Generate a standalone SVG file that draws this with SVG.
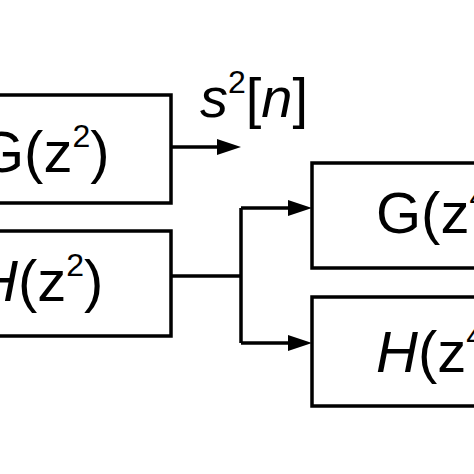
<svg xmlns="http://www.w3.org/2000/svg" width="474" height="474" viewBox="0 0 474 474">
<style>
.box{fill:#fff;stroke:#000;stroke-width:3.5}
.wire{fill:none;stroke:#000;stroke-width:3.5}
.lbl{font-family:"Liberation Sans",Arial,sans-serif;font-size:58px;fill:#000}
.sup{font-size:32px}
.it{font-style:italic}
</style>
<defs>
<marker id="ah" markerUnits="userSpaceOnUse" markerWidth="24" markerHeight="18" refX="17" refY="9" orient="auto">
<path d="M0,1 L24,9 L0,17 Z" fill="#000"/>
</marker>
</defs>
<rect width="474" height="474" fill="#fff"/>
<g id="connectors">
<line class="wire" x1="171" y1="147" x2="234" y2="147" marker-end="url(#ah)"/>
<polyline class="wire" points="171,276 241,276"/>
<polyline class="wire" points="241,208 241,343"/>
<line class="wire" x1="241" y1="208" x2="305" y2="208" marker-end="url(#ah)"/>
<line class="wire" x1="241" y1="343" x2="305" y2="343" marker-end="url(#ah)"/>
</g>
<g id="node-g2">
<rect class="box" x="-77" y="95" width="248" height="108"/>
<text class="lbl" x="-21" y="172">G(z<tspan class="sup" dy="-25">2</tspan><tspan dy="25">)</tspan></text>
</g>
<g id="node-h2">
<rect class="box" x="-77" y="231" width="248" height="105"/>
<text class="lbl" x="-24" y="301"><tspan class="it">H</tspan>(z<tspan class="sup" dy="-25">2</tspan><tspan dy="25">)</tspan></text>
</g>
<g id="label-s2">
<text class="lbl" x="200" y="117" style="font-size:56px"><tspan class="it">s</tspan><tspan class="sup" dy="-24">2</tspan><tspan dy="24">[</tspan><tspan class="it">n</tspan>]</text>
</g>
<g id="node-g4">
<rect class="box" x="312" y="163" width="248" height="105"/>
<text class="lbl" x="376" y="233">G(z<tspan class="sup" dy="-25">4</tspan><tspan dy="25">)</tspan></text>
</g>
<g id="node-h4">
<rect class="box" x="312" y="297" width="248" height="109"/>
<text class="lbl" x="376" y="372"><tspan class="it">H</tspan>(z<tspan class="sup" dy="-25">4</tspan><tspan dy="25">)</tspan></text>
</g>
</svg>
